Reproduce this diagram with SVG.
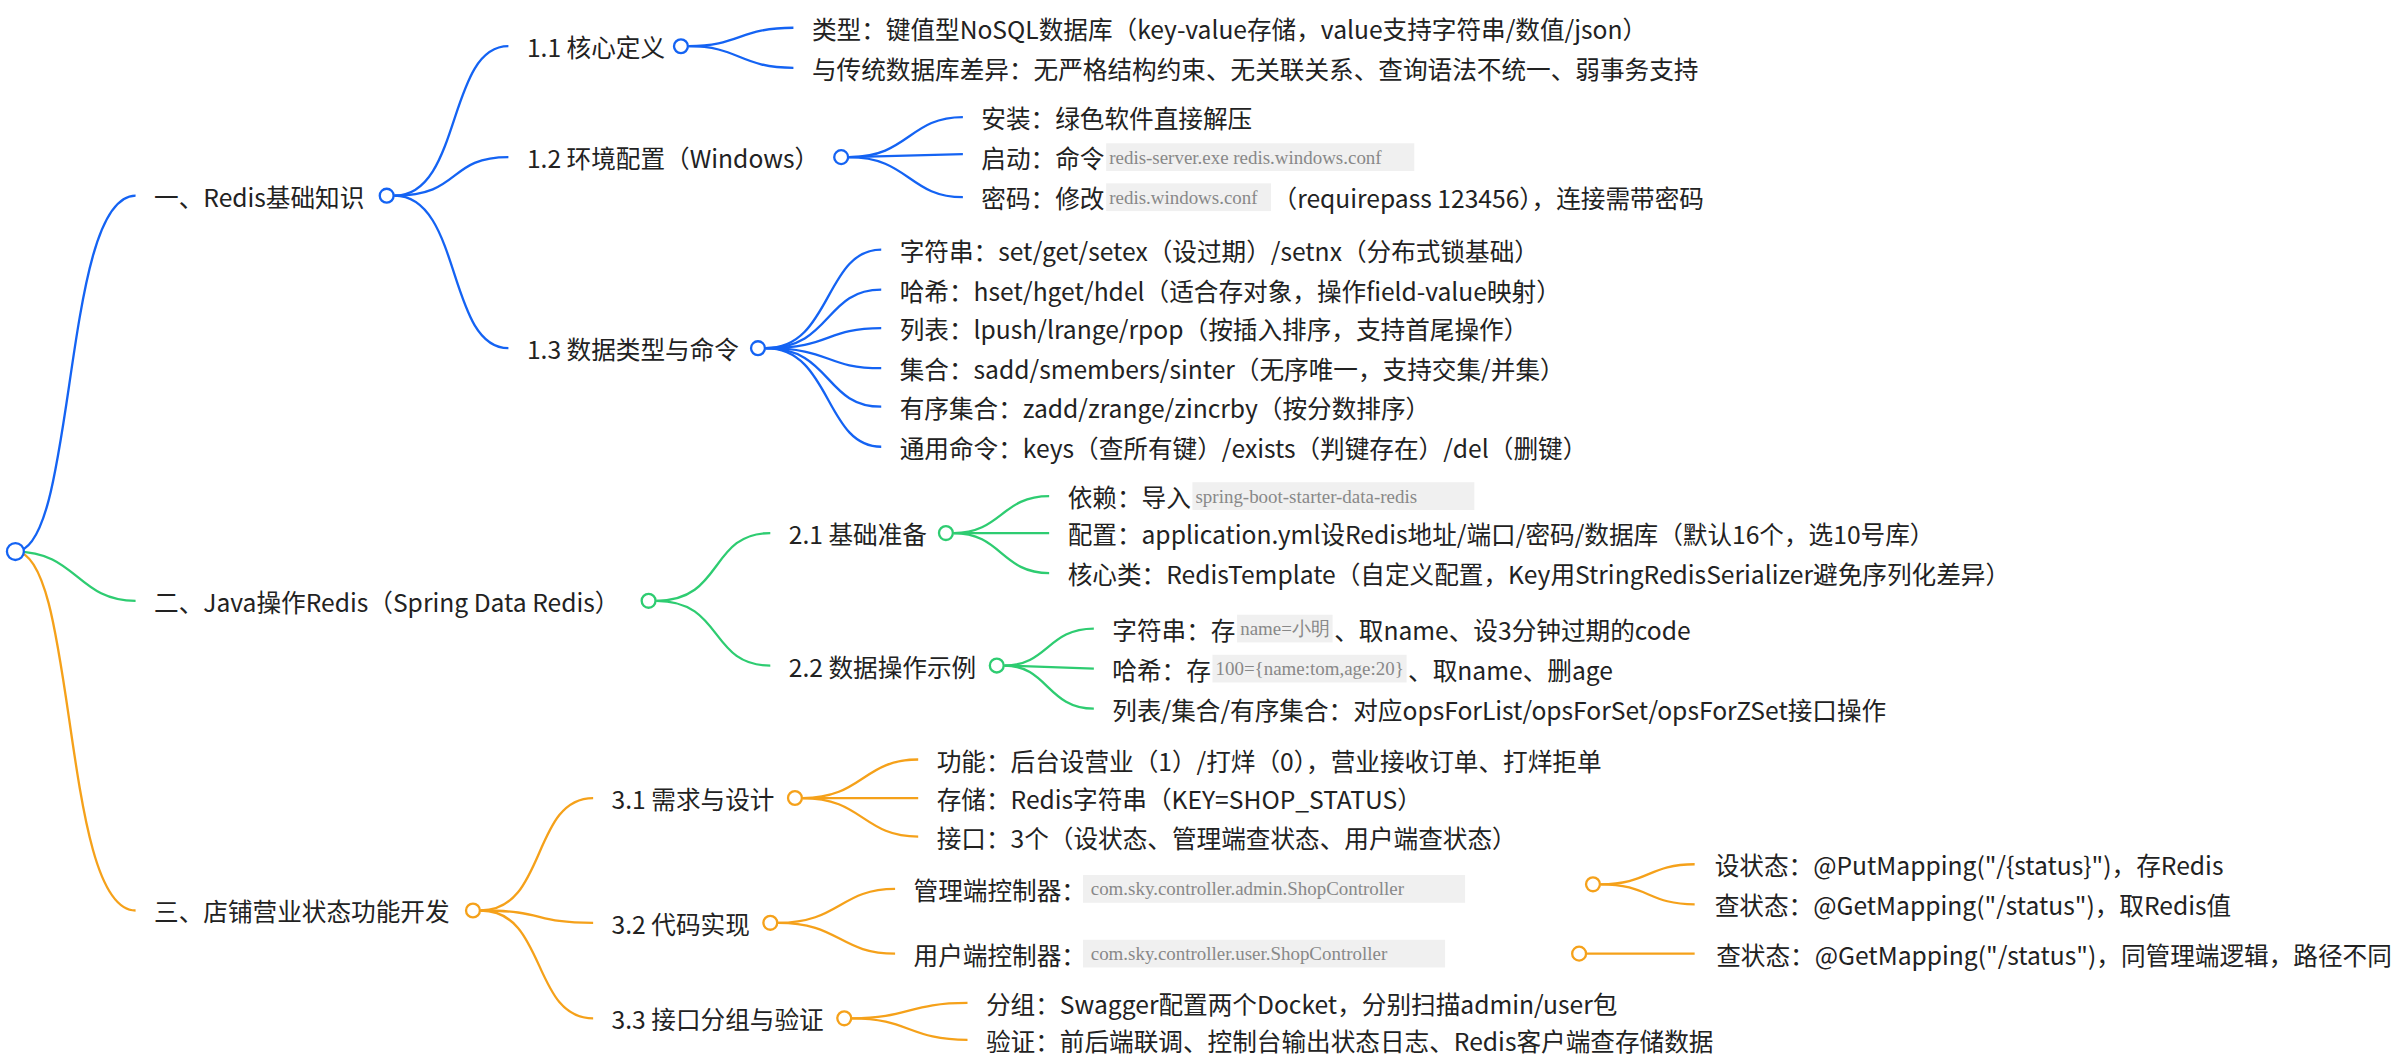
<svg xmlns="http://www.w3.org/2000/svg" width="2408" height="1056" viewBox="0 0 2408 1056">
<style>
text{font-family:"Noto Sans CJK SC","Noto Sans",sans-serif;font-size:16px;fill:#222;dominant-baseline:central}
.c{font-family:"Liberation Serif",serif;font-size:12.3px;fill:#888}
.cb{fill:#f0f0f0}
.b{stroke:#1463f3}.g{stroke:#2ecc71}.o{stroke:#f5a11a}
path{fill:none;stroke-width:1.5}
circle{fill:#fff;stroke-width:1.5}
</style>
<rect width="2408" height="1056" fill="#fff"/>
<g transform="scale(1.5406)">
<g id="connectors">
<path class="b" d="M10 358 C50 358 40 127 88 127"/>
<path class="g" d="M10 358 C50 358 50 390 88 390"/>
<path class="o" d="M10 358 C50 358 40 591 88 591"/>
<path class="b" d="M256 127 C300 127 290 30 330 30"/>
<path class="b" d="M256 127 C300 127 290 102 330 102"/>
<path class="b" d="M256 127 C300 127 290 226 330 226"/>
<path class="b" d="M447 30 C480 30 480 18 515 18"/>
<path class="b" d="M447 30 C480 30 480 44 515 44"/>
<path class="b" d="M551 102 C590 102 590 76 625 76"/>
<path class="b" d="M551 102 L625 100"/>
<path class="b" d="M551 102 C590 102 590 128 625 128"/>
<path class="b" d="M497 226 C540 226 535 162 572 162"/>
<path class="b" d="M497 226 C540 226 535 188 572 188"/>
<path class="b" d="M497 226 C540 226 535 213 572 213"/>
<path class="b" d="M497 226 C540 226 535 239 572 239"/>
<path class="b" d="M497 226 C540 226 535 264 572 264"/>
<path class="b" d="M497 226 C540 226 535 290 572 290"/>
<path class="g" d="M426 390 C470 390 460 346 500 346"/>
<path class="g" d="M426 390 C470 390 460 432 500 432"/>
<path class="g" d="M619 346 C650 346 650 322 681 322"/>
<path class="g" d="M619 346 L681 346"/>
<path class="g" d="M619 346 C650 346 650 372 681 372"/>
<path class="g" d="M652 432 C680 432 680 408 710 408"/>
<path class="g" d="M652 432 L710 434"/>
<path class="g" d="M652 432 C680 432 680 460 710 460"/>
<path class="o" d="M312 591 C355 591 345 518 385 518"/>
<path class="o" d="M312 591 C355 591 345 599 385 599"/>
<path class="o" d="M312 591 C355 591 345 661 385 661"/>
<path class="o" d="M521 518 C560 518 560 493 596 493"/>
<path class="o" d="M521 518 L596 518"/>
<path class="o" d="M521 518 C560 518 560 543 596 543"/>
<path class="o" d="M505 599 C545 599 545 577 581 577"/>
<path class="o" d="M505 599 C545 599 545 619 581 619"/>
<path class="o" d="M1039 574 C1070 574 1070 561 1100 561"/>
<path class="o" d="M1039 574 C1070 574 1070 587 1100 587"/>
<path class="o" d="M1030 619 L1100 619"/>
<path class="o" d="M553 661 C590 661 590 651 628 651"/>
<path class="o" d="M553 661 C590 661 590 675 628 675"/>
</g>
<g id="root"><circle class="b" cx="10" cy="358" r="5.5"/></g>
<g id="n1"><text x="100" y="127">一、Redis基础知识</text><circle class="b" cx="251" cy="127" r="4.5"/></g>
<g id="n2"><text x="100" y="390">二、Java操作Redis（Spring Data Redis）</text><circle class="g" cx="421" cy="390" r="4.5"/></g>
<g id="n3"><text x="100" y="591">三、店铺营业状态功能开发</text><circle class="o" cx="307" cy="591" r="4.5"/></g>
<g id="n11"><text x="342" y="30">1.1 核心定义</text><circle class="b" cx="442" cy="30" r="4.5"/></g>
<g id="n12"><text x="342" y="102">1.2 环境配置（Windows）</text><circle class="b" cx="546" cy="102" r="4.5"/></g>
<g id="n13"><text x="342" y="226">1.3 数据类型与命令</text><circle class="b" cx="492" cy="226" r="4.5"/></g>
<g id="n21"><text x="512" y="346">2.1 基础准备</text><circle class="g" cx="614" cy="346" r="4.5"/></g>
<g id="n22"><text x="512" y="432">2.2 数据操作示例</text><circle class="g" cx="647" cy="432" r="4.5"/></g>
<g id="n31"><text x="397" y="518">3.1 需求与设计</text><circle class="o" cx="516" cy="518" r="4.5"/></g>
<g id="n32"><text x="397" y="599">3.2 代码实现</text><circle class="o" cx="500" cy="599" r="4.5"/></g>
<g id="n33"><text x="397" y="661">3.3 接口分组与验证</text><circle class="o" cx="548" cy="661" r="4.5"/></g>
<g id="l111"><text x="527" y="18">类型：键值型NoSQL数据库（key-value存储，value支持字符串/数值/json）</text></g>
<g id="l112"><text x="527" y="44">与传统数据库差异：无严格结构约束、无关联关系、查询语法不统一、弱事务支持</text></g>
<g id="l121"><text x="637" y="76">安装：绿色软件直接解压</text></g>
<g id="l122"><text x="637" y="102">启动：命令</text><rect class="cb" x="718" y="93" width="200" height="18"/><text class="c" x="720" y="102">redis-server.exe redis.windows.conf</text></g>
<g id="l123"><text x="637" y="128">密码：修改</text><rect class="cb" x="718" y="119" width="107" height="18"/><text class="c" x="720" y="128">redis.windows.conf</text><text x="826" y="128">（requirepass 123456），连接需带密码</text></g>
<g id="l131"><text x="584" y="162">字符串：set/get/setex（设过期）/setnx（分布式锁基础）</text></g>
<g id="l132"><text x="584" y="188">哈希：hset/hget/hdel（适合存对象，操作field-value映射）</text></g>
<g id="l133"><text x="584" y="213">列表：lpush/lrange/rpop（按插入排序，支持首尾操作）</text></g>
<g id="l134"><text x="584" y="239">集合：sadd/smembers/sinter（无序唯一，支持交集/并集）</text></g>
<g id="l135"><text x="584" y="264">有序集合：zadd/zrange/zincrby（按分数排序）</text></g>
<g id="l136"><text x="584" y="290">通用命令：keys（查所有键）/exists（判键存在）/del（删键）</text></g>
<g id="l211"><text x="693" y="322">依赖：导入</text><rect class="cb" x="774" y="313" width="183" height="18"/><text class="c" x="776" y="322">spring-boot-starter-data-redis</text></g>
<g id="l212"><text x="693" y="346">配置：application.yml设Redis地址/端口/密码/数据库（默认16个，选10号库）</text></g>
<g id="l213"><text x="693" y="372">核心类：RedisTemplate（自定义配置，Key用StringRedisSerializer避免序列化差异）</text></g>
<g id="l221"><text x="722" y="408">字符串：存</text><rect class="cb" x="803" y="399" width="62" height="18"/><text class="c" x="805" y="408">name=小明</text><text x="866" y="408">、取name、设3分钟过期的code</text></g>
<g id="l222"><text x="722" y="434">哈希：存</text><rect class="cb" x="787" y="425" width="126" height="18"/><text class="c" x="789" y="434">100={name:tom,age:20}</text><text x="914" y="434">、取name、删age</text></g>
<g id="l223"><text x="722" y="460">列表/集合/有序集合：对应opsForList/opsForSet/opsForZSet接口操作</text></g>
<g id="l311"><text x="608" y="493">功能：后台设营业（1）/打烊（0），营业接收订单、打烊拒单</text></g>
<g id="l312"><text x="608" y="518">存储：Redis字符串（KEY=SHOP_STATUS）</text></g>
<g id="l313"><text x="608" y="543">接口：3个（设状态、管理端查状态、用户端查状态）</text></g>
<g id="l321"><text x="593" y="577">管理端控制器：</text><rect class="cb" x="703" y="568" width="248" height="18"/><text class="c" x="708" y="577">com.sky.controller.admin.ShopController</text><circle class="o" cx="1034" cy="574" r="4.5"/></g>
<g id="l322"><text x="593" y="619">用户端控制器：</text><rect class="cb" x="703" y="610" width="235" height="18"/><text class="c" x="708" y="619">com.sky.controller.user.ShopController</text><circle class="o" cx="1025" cy="619" r="4.5"/></g>
<g id="l3211"><text x="1113" y="561">设状态：@PutMapping("/{status}")，存Redis</text></g>
<g id="l3212"><text x="1113" y="587">查状态：@GetMapping("/status")，取Redis值</text></g>
<g id="l3221"><text x="1114" y="619">查状态：@GetMapping("/status")，同管理端逻辑，路径不同</text></g>
<g id="l331"><text x="640" y="651">分组：Swagger配置两个Docket，分别扫描admin/user包</text></g>
<g id="l332"><text x="640" y="675">验证：前后端联调、控制台输出状态日志、Redis客户端查存储数据</text></g>
</g>
</svg>
